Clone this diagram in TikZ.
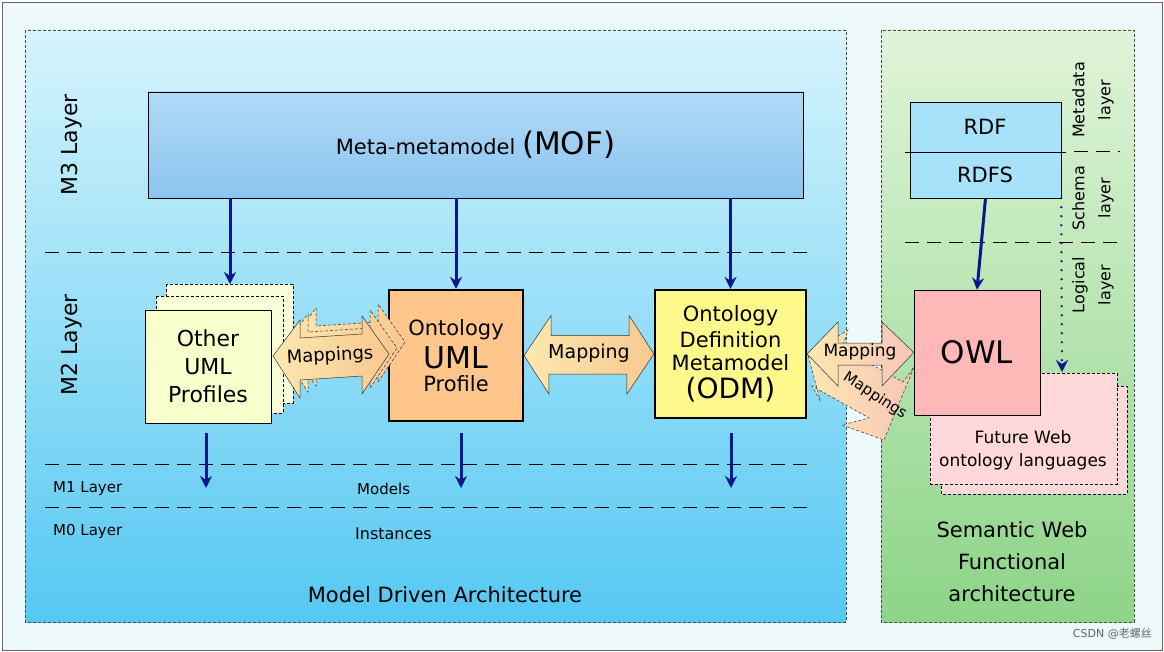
\documentclass[tikz,border=0pt]{standalone}
\usepackage{fontspec}
\setmainfont{DejaVu Sans}
\newfontfamily\cjk{Noto Sans CJK SC}
\usetikzlibrary{arrows.meta,calc}
\definecolor{navy}{HTML}{0A1890}
\definecolor{bgc}{HTML}{EEF9FC}
\definecolor{mdatop}{HTML}{D6F4FC}
\definecolor{mdabot}{HTML}{55C8F2}
\definecolor{swtop}{HTML}{E0F4D8}
\definecolor{swbot}{HTML}{8DD488}
\definecolor{moftop}{HTML}{B0DAF7}
\definecolor{mofbot}{HTML}{8CC4EF}
\definecolor{arry}{HTML}{FCE8B0}
\definecolor{arro}{HTML}{F8C890}
\definecolor{arrp}{HTML}{F8C4B8}
\begin{document}
\begin{tikzpicture}[x=1pt,y=-1pt,
  lbl/.style={font=\fontsize{#1}{#1}\selectfont,inner sep=0pt},
  box/.style={draw=black,inner sep=0pt},
  thick box/.style={draw=black,line width=2.2pt,inner sep=0pt},
  down/.style={navy,line width=3pt,-{Stealth[length=12pt,width=12pt]}},
  ldash/.style={black,dash pattern=on 14pt off 8pt,line width=1pt},
  arr/.style={draw=black!80,line width=0.5pt},
]
\useasboundingbox (0,0) rectangle (1164,652);
\fill[white] (0,0) rectangle (1164,652);
\draw[black!60,fill=bgc] (2,2) rectangle (1162,650);
% panels
\shade[top color=mdatop,bottom color=mdabot] (25,30) rectangle (846,622);
\draw[black!70,densely dashed] (25,30) rectangle (846,622);
\shade[top color=swtop,bottom color=swbot] (881,30) rectangle (1134,622);
\draw[black!70,densely dashed] (881,30) rectangle (1134,622);
% layer labels
\node[lbl=22,rotate=90] (m3) at (72,145) {M3 Layer};
\node[lbl=22,rotate=90] (m2) at (72,345) {M2 Layer};
% MOF
\node[box,minimum width=655,minimum height=106,top color=moftop,bottom color=mofbot] (mof) at (475.5,145) {\fontsize{21}{21}\selectfont Meta-metamodel \fontsize{31}{31}\selectfont(MOF)};
\draw[ldash] (45,253) -- (810,253);
\draw[ldash] (45,464) -- (810,464);
\draw[ldash] (45,507) -- (810,507);
% other UML profiles
\draw[black,densely dashed,fill=green!10!yellow!15] (166,284) rectangle (293,403);
\draw[black,densely dashed,fill=green!10!yellow!15] (156,296) rectangle (283,413);
\node[box,fill=green!15!yellow!20,minimum width=126,minimum height=113,align=center,font=\fontsize{22}{28}\selectfont] (other) at (208,366.5) {Other\\UML\\Profiles};
% Ontology UML profile
\node[thick box,fill=orange!45!white,minimum width=134,minimum height=131,align=center] (uml) at (456,355.5) {\fontsize{21}{21}\selectfont Ontology\\[6pt]\fontsize{30}{30}\selectfont UML\\[6pt]\fontsize{21}{21}\selectfont Profile};
% ODM
\node[thick box,fill=yellow!45!white,minimum width=151,minimum height=128,align=center] (odm) at (730.5,354) {\fontsize{21}{21}\selectfont Ontology\\[5pt]\fontsize{21}{21}\selectfont Definition\\[5pt]\fontsize{21}{21}\selectfont Metamodel\\[6pt]\fontsize{28}{28}\selectfont(ODM)};
% arrows from MOF
\coordinate (otop) at (230,284);
\draw[down] (mof.south -| otop) -- (otop);
\draw[down] (mof.south -| uml) -- (uml.north);
\draw[down] (mof.south -| odm) -- (odm.north);
% arrows down to M1
\coordinate (m1a) at (206,488); \coordinate (m1b) at (461,488); \coordinate (m1c) at (731,488);
\draw[down] (206,433) -- (m1a);
\draw[down] (461,433) -- (m1b);
\draw[down] (731,433) -- (m1c);
% Mappings (left) stacked arrows
\foreach \dx/\dy/\st in {16/-12/densely dashed,8/-6/densely dashed,0/0/solid}{
 \draw[arr,\st,left color=arry,right color=arro] ([shift={(\dx,\dy)}]273,356) -- ++(27,-36) -- ++(0,18) -- ++(62,-4) -- ++(0,-18) -- ++(27,38) -- ++(-27,40) -- ++(0,-18) -- ++(-62,4) -- ++(0,18) -- cycle;
}
\node[lbl=18,rotate=3] (mps) at (330,356) {Mappings};
% Mapping UML-ODM
\draw[arr,left color=arry,right color=arro] (uml.east) -- ++(27,-40) -- ++(0,20) -- ++(78,0) -- ++(0,-20) -- (odm.west) -- ++(-27,40) -- ++(0,-20) -- ++(-78,0) -- ++(0,20) -- cycle;
\node[lbl=19] (mp) at (589,353) {Mapping};
% right panel: RDF
\node[box,fill=cyan!35,minimum width=151,minimum height=96] (rdf) at (985.5,150) {};
\draw[black] (905,152) -- (1066,152);
\node[lbl=21] (rdft) at (985,127) {RDF};
\node[lbl=21] (rdfst) at (985,175) {RDFS};
\draw[ldash] (1074,152) -- (1120,152);
\draw[ldash] (905,243) -- (1120,243);
\node[rotate=90,align=center,font=\fontsize{16}{26}\selectfont,inner sep=0pt] (md) at (1093,100) {Metadata\\layer};
\node[rotate=90,align=center,font=\fontsize{16}{26}\selectfont,inner sep=0pt] (sl) at (1093,198) {Schema\\layer};
\node[rotate=90,align=center,font=\fontsize{16}{26}\selectfont,inner sep=0pt] (ll) at (1093,285) {Logical\\layer};
% future web
\draw[black,densely dashed,fill=red!15] (941,386) rectangle (1127,494);
\node[draw=black,densely dashed,fill=red!15,minimum width=187,minimum height=111,inner sep=0pt] (fut) at (1023.5,428.5) {};
% mappings diagonal
\draw[arr,densely dashed,left color=arry,right color=arrp] (808,355) -- (848,330) -- (842,348) -- (903,382) -- (914,367) -- (884,440) -- (842,425) -- (869,418) -- (812,386) -- (820,400) -- cycle;
\node[lbl=15,rotate=-33] (mpsd) at (875,396) {Mappings};
% OWL
\node[box,fill=red!28,minimum width=126,minimum height=125] (owl) at (977,352.5) {\fontsize{31}{31}\selectfont OWL};
\node[align=center,font=\fontsize{17}{23}\selectfont,inner sep=0pt] (futt) at (1023,450) {Future Web\\ontology languages};
% Mapping ODM-OWL
\draw[arr,left color=arry,right color=arrp] (odm.east) -- (838,322) -- (838,343) -- (882,343) -- (882,322) -- (owl.west) -- (882,386) -- (882,365) -- (838,365) -- (838,386) -- cycle;
\node[lbl=17] (mpr) at (860,352) {Mapping};
% RDFS -> OWL
\draw[down] (rdf.south) -- (owl.north);
\coordinate (dotend) at (1062,372);
\draw[navy,line width=2.6pt,dash pattern=on 0pt off 9pt,line cap=round,-{Stealth[length=12pt,width=12pt]}] (rdf.south east) -- (dotend);
% texts
\node[lbl=15,anchor=west] (m1) at (53,489) {M1 Layer};
\node[lbl=15,anchor=west] (mod) at (357,489) {Models};
\node[lbl=15,anchor=west] (m0) at (53,531) {M0 Layer};
\node[lbl=16,anchor=west] (ins) at (355,534) {Instances};
\node[lbl=21] (mda) at (445,595) {Model Driven Architecture};
\node[align=center,font=\fontsize{21}{32}\selectfont,inner sep=0pt] (sw) at (1012,562) {Semantic Web\\Functional\\architecture};
\node[lbl=11,anchor=east,text=black!60] (wm) at (1152,634) {CSDN @{\cjk 老螺丝}};
\end{tikzpicture}
\end{document}
